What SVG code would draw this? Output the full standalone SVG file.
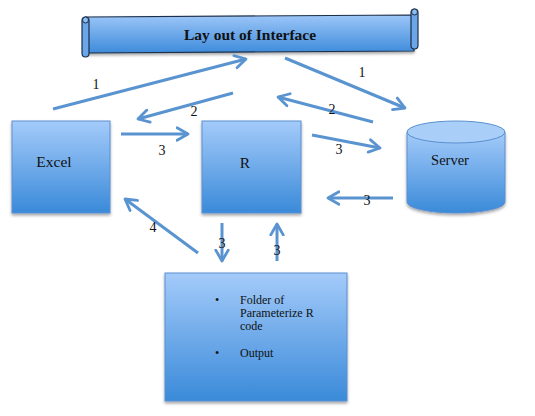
<svg xmlns="http://www.w3.org/2000/svg" width="535" height="416" viewBox="0 0 535 416">
<defs>
<linearGradient id="g" x1="0" y1="0" x2="0" y2="1">
<stop offset="0" stop-color="#a4cbfa"/>
<stop offset="1" stop-color="#3a8ad9"/>
</linearGradient>
<linearGradient id="gb" x1="0" y1="0" x2="0" y2="1">
<stop offset="0" stop-color="#9cc6f8"/>
<stop offset="1" stop-color="#3d8bdb"/>
</linearGradient>
<filter id="sh" x="-10%" y="-10%" width="130%" height="130%">
<feDropShadow dx="0" dy="2" stdDeviation="1.5" flood-color="#000" flood-opacity="0.35"/>
</filter>
<marker id="ah" viewBox="0 0 10 10" refX="8" refY="5" markerWidth="5.2" markerHeight="5.2" orient="auto" markerUnits="strokeWidth">
<path d="M1,1 L8,5 L1,9" fill="none" stroke="#5a94d0" stroke-width="1.8" stroke-linecap="round" stroke-linejoin="round"/>
</marker>
</defs>
<style>
.box{fill:url(#g);stroke:#5b8fd0;stroke-width:1;filter:url(#sh)}
.t{font-family:"Liberation Serif",serif;fill:#111}
.lbl{font-family:"Liberation Serif",serif;font-size:14px;fill:#111;text-anchor:middle}
.c line{stroke:#5a94d0;stroke-width:3;marker-end:url(#ah)}
</style>

<g id="banner">
<path d="M86,17 L414,15 L414,51 L86,53 Z" fill="url(#gb)" stroke="#1c2f4a" stroke-width="1.2" filter="url(#sh)"/>
<rect x="82" y="17" width="7" height="40" rx="3.5" fill="#6aa6e8" stroke="#1c2f4a" stroke-width="1.2"/>
<circle cx="85.5" cy="20" r="3" fill="#8bbcf2" stroke="#1c2f4a" stroke-width="1"/>
<rect x="411" y="9" width="7" height="40" rx="3.5" fill="#6aa6e8" stroke="#1c2f4a" stroke-width="1.2"/>
<circle cx="414.5" cy="12" r="3" fill="#8bbcf2" stroke="#1c2f4a" stroke-width="1"/>
<text class="t" x="250" y="40" font-size="15.5" font-weight="bold" text-anchor="middle">Lay out of Interface</text>
</g>

<g id="excel">
<rect class="box" x="12" y="121" width="98" height="92"/>
<text class="t" x="54" y="167" font-size="15.5" text-anchor="middle">Excel</text>
</g>

<g id="r">
<rect class="box" x="202" y="121" width="99" height="92"/>
<text class="t" x="245" y="168" font-size="15.5" text-anchor="middle">R</text>
</g>

<g id="server">
<path d="M407,132 L407,202 A49,11 0 0 0 505,202 L505,132 Z" fill="url(#g)" stroke="#5b8fd0" stroke-width="1" filter="url(#sh)"/>
<ellipse cx="456" cy="132" rx="49" ry="11" fill="#a9cff9" stroke="#5b8fd0" stroke-width="1"/>
<text class="t" x="450" y="165" font-size="14.5" text-anchor="middle">Server</text>
</g>

<g id="folder">
<rect class="box" x="165" y="273" width="182" height="128"/>
<g class="t" font-size="12">
<text x="215" y="304">•</text>
<text x="240" y="304">Folder of</text>
<text x="240" y="317">Parameterize R</text>
<text x="240" y="330">code</text>
<text x="215" y="357">•</text>
<text x="240" y="357">Output</text>
</g>
</g>

<g id="connectors" class="c">
<line x1="53" y1="109" x2="246" y2="59"/>
<line x1="285" y1="58" x2="405" y2="108"/>
<line x1="233" y1="93" x2="138" y2="119"/>
<line x1="373" y1="122" x2="278" y2="97"/>
<line x1="121" y1="134" x2="188" y2="134"/>
<line x1="312" y1="135" x2="380" y2="148"/>
<line x1="393" y1="198" x2="328" y2="198"/>
<line x1="198" y1="253" x2="125" y2="199"/>
<line x1="222" y1="223" x2="222" y2="261"/>
<line x1="277" y1="261" x2="277" y2="224"/>
</g>

<g id="labels">
<text class="lbl" x="96" y="89">1</text>
<text class="lbl" x="362" y="77">1</text>
<text class="lbl" x="194" y="116">2</text>
<text class="lbl" x="332" y="114">2</text>
<text class="lbl" x="162" y="155">3</text>
<text class="lbl" x="339" y="154">3</text>
<text class="lbl" x="367" y="205">3</text>
<text class="lbl" x="153" y="232">4</text>
<text class="lbl" x="222" y="248">3</text>
<text class="lbl" x="277" y="255">3</text>
</g>
</svg>
